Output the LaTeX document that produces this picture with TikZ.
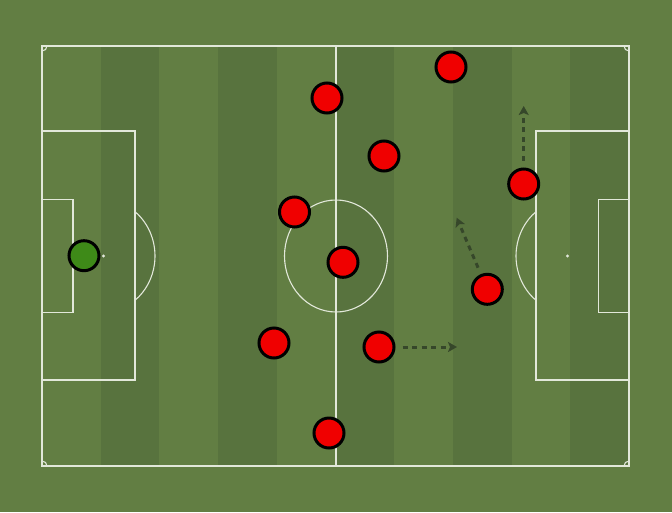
\documentclass[tikz,border=0pt]{standalone}
\usetikzlibrary{arrows.meta}
\definecolor{grassL}{HTML}{627E43}
\definecolor{grassD}{HTML}{58733E}
\definecolor{chalk}{HTML}{E2E8DA}
\definecolor{runC}{HTML}{36472A}
\definecolor{redP}{HTML}{F00000}
\definecolor{greenP}{HTML}{3E8A18}
\begin{document}
\begin{tikzpicture}[x=1pt,y=-1pt,
  line/.style={draw=chalk,line width=1.1pt},
  player/.style={circle,draw=black,line width=3pt,minimum size=30pt,inner sep=0pt},
  redpl/.style={player,fill=redP},
  keeper/.style={player,fill=greenP},
  run/.style={draw=runC,line width=3pt,dash pattern=on 5pt off 4.5pt,shorten <=7pt,-{Stealth[length=9pt,width=10pt,inset=2pt]}}]
% background and stripes
\fill[grassL] (0,0) rectangle (672,512);
\useasboundingbox (0,0) rectangle (672,512);
\foreach \i in {1,3,5,7,9} \fill[grassD] ({42+\i*58.7},46) rectangle ({42+(\i+1)*58.7},466);
% markings
\draw[line] (42,46) rectangle (629,466);
\draw[line] (336,46) -- (336,466);
\draw[line] (336,256) ellipse[x radius=51.5,y radius=56];
\draw[line] (42,131) rectangle (135,380);
\draw[line] (536,131) rectangle (629,380);
\draw[line] (42,199.5) rectangle (73,312.5);
\draw[line] (598.5,199.5) rectangle (629,312.5);
\draw[line] (103.5,256) ++(-52.3:51.5 and 56) arc[start angle=-52.3,end angle=52.3,x radius=51.5,y radius=56];
\draw[line] (567.5,256) ++(127.7:51.5 and 56) arc[start angle=127.7,end angle=232.3,x radius=51.5,y radius=56];
\fill[chalk] (103.5,256) circle[radius=1.6];
\fill[chalk] (567.5,256) circle[radius=1.6];
\fill[chalk] (336,256) circle[radius=1.6];
\draw[line] (47,46) arc[start angle=0,end angle=90,radius=5];
\draw[line] (629,51) arc[start angle=90,end angle=180,radius=5];
\draw[line] (624,466) arc[start angle=180,end angle=270,radius=5];
\draw[line] (42,461) arc[start angle=270,end angle=360,radius=5];
% players
\node[keeper] (gk) at (84,255.7) {};
\node[redpl] (p1) at (451,67) {};
\node[redpl] (p2) at (327,98) {};
\node[redpl] (p3) at (384,156) {};
\node[redpl] (p4) at (523.7,184) {};
\node[redpl] (p5) at (294.5,212) {};
\node[redpl] (p6) at (343,262.3) {};
\node[redpl] (p7) at (487.3,289.3) {};
\node[redpl] (p8) at (274,343) {};
\node[redpl] (p9) at (379,347) {};
\node[redpl] (p10) at (329,433) {};
% runs
\coordinate (t1) at (523.7,106);
\coordinate (t2) at (456.7,217.7);
\coordinate (t3) at (457,347);
\draw[run] (p4) -- (t1);
\draw[run] (p7) -- (t2);
\draw[run] (p9) -- (t3);
\end{tikzpicture}
\end{document}
